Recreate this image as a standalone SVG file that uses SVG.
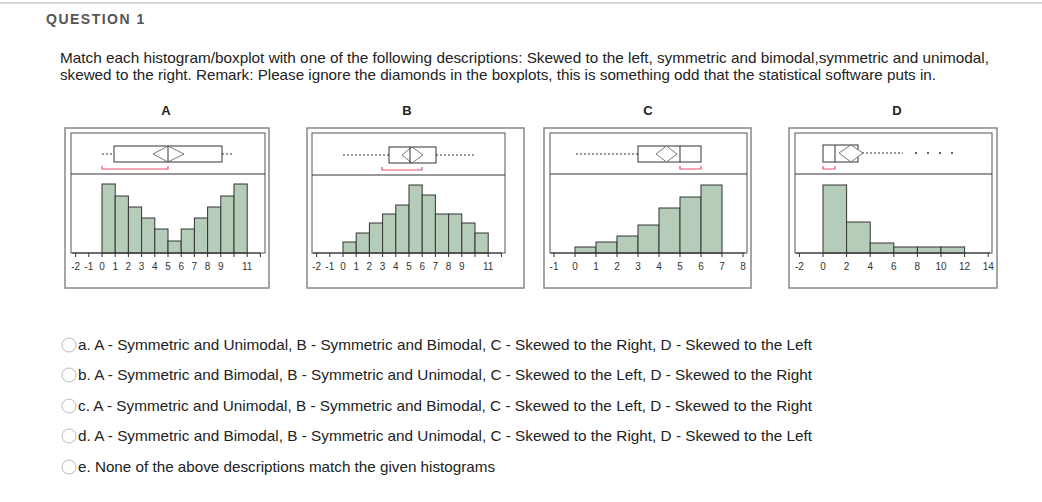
<svg xmlns="http://www.w3.org/2000/svg" width="1042" height="502" viewBox="0 0 1042 502">
<style>
text{font-family:"Liberation Sans",Arial,sans-serif;fill:#222}
.q{font-size:14px;font-weight:bold;fill:#555;letter-spacing:1.5px}
.p{font-size:14.5px}
.o{font-size:15px}
.t{font-size:13px;font-weight:bold;text-anchor:middle}
.tk{font-size:10px;text-anchor:middle;fill:#333}
.outer{fill:#fff;stroke:#888;stroke-width:1.5}
.inner{fill:none;stroke:#555;stroke-width:1}
.bar{fill:#b5cdb8;stroke:#333;stroke-width:1}
.ln{stroke:#333;stroke-width:1;fill:none}
.box{fill:#fff;stroke:#333;stroke-width:1}
.dia{fill:#fff;stroke:#555;stroke-width:0.8}
.wh{stroke:#333;stroke-width:1;stroke-dasharray:2,2}
.red{stroke:#e8506a;stroke-width:1.2;fill:none}
.rad{fill:#fff;stroke:#bbb;stroke-width:1}
</style>
<rect width="1042" height="502" fill="#fff"/>
<line x1="0" y1="3" x2="1042" y2="3" stroke="#ccc" stroke-width="1.5"/>
<text class="q" x="46" y="24">QUESTION 1</text>
<text class="p" x="60" y="63" textLength="929" lengthAdjust="spacingAndGlyphs">Match each histogram/boxplot with one of the following descriptions: Skewed to the left, symmetric and bimodal,symmetric and unimodal,</text>
<text class="p" x="60" y="80" textLength="876" lengthAdjust="spacingAndGlyphs">skewed to the right. Remark: Please ignore the diamonds in the boxplots, this is something odd that the statistical software puts in.</text>

<g id="A">
<text class="t" x="166" y="115">A</text>
<rect class="outer" x="65" y="128" width="204" height="160"/>
<rect class="inner" x="71" y="133" width="194" height="120"/>
<line class="ln" x1="71" y1="174" x2="265" y2="174"/>
<line class="wh" x1="102" y1="154" x2="114" y2="154"/><line class="wh" x1="222" y1="154" x2="234" y2="154"/>
<rect class="box" x="114" y="146" width="108" height="16"/>
<polygon class="dia" points="153,154 168,146 184,154 168,162"/>
<line class="ln" x1="168" y1="146" x2="168" y2="162"/>
<path class="red" d="M102,166V169H168V166"/>
<g>
<rect class="bar" x="102" y="184" width="13.2" height="69"/>
<rect class="bar" x="115.2" y="196" width="13.2" height="57"/>
<rect class="bar" x="128.4" y="207" width="13.2" height="46"/>
<rect class="bar" x="141.6" y="218" width="13.2" height="35"/>
<rect class="bar" x="154.8" y="229" width="13.2" height="24"/>
<rect class="bar" x="168" y="241" width="13.2" height="12"/>
<rect class="bar" x="181.2" y="229" width="13.2" height="24"/>
<rect class="bar" x="194.4" y="218" width="13.2" height="35"/>
<rect class="bar" x="207.6" y="207" width="13.2" height="46"/>
<rect class="bar" x="220.8" y="196" width="13.2" height="57"/>
<rect class="bar" x="234" y="184" width="13.2" height="69"/>
</g>
<line class="ln" x1="72" y1="253" x2="260" y2="253"/>
<path class="ln" d="M75.6,253v4M88.8,253v4M102,253v4M115.2,253v4M128.4,253v4M141.6,253v4M154.8,253v4M168,253v4M181.2,253v4M194.4,253v4M207.6,253v4M220.8,253v4M234,253v4M247.2,253v4M260.4,253v4"/>
<text class="tk" y="270"><tspan x="75.6">-2</tspan><tspan x="88.8">-1</tspan><tspan x="102">0</tspan><tspan x="115.2">1</tspan><tspan x="128.4">2</tspan><tspan x="141.6">3</tspan><tspan x="154.8">4</tspan><tspan x="168">5</tspan><tspan x="181.2">6</tspan><tspan x="194.4">7</tspan><tspan x="207.6">8</tspan><tspan x="220.8">9</tspan><tspan x="247.2">11</tspan></text>
</g>

<g id="B">
<text class="t" x="407" y="115">B</text>
<rect class="outer" x="307" y="128" width="217" height="160"/>
<rect class="inner" x="312" y="133" width="193" height="120"/>
<line class="ln" x1="312" y1="175" x2="505" y2="175"/>
<line class="wh" x1="343" y1="155" x2="389" y2="155"/><line class="wh" x1="436" y1="155" x2="475" y2="155"/>
<rect class="box" x="389" y="147" width="47" height="16"/>
<polygon class="dia" points="402,155 412,147 423,155 412,163"/>
<line class="ln" x1="410" y1="147" x2="410" y2="163"/>
<path class="red" d="M382,167V170H422V167"/>
<g>
<rect class="bar" x="343" y="242" width="13.2" height="11"/>
<rect class="bar" x="356.2" y="233" width="13.2" height="20"/>
<rect class="bar" x="369.4" y="223" width="13.2" height="30"/>
<rect class="bar" x="382.6" y="214" width="13.2" height="39"/>
<rect class="bar" x="395.8" y="205" width="13.2" height="48"/>
<rect class="bar" x="409" y="185" width="13.2" height="68"/>
<rect class="bar" x="422.2" y="195" width="13.2" height="58"/>
<rect class="bar" x="435.4" y="214" width="13.2" height="39"/>
<rect class="bar" x="448.6" y="214" width="13.2" height="39"/>
<rect class="bar" x="461.8" y="223" width="13.2" height="30"/>
<rect class="bar" x="475" y="233" width="13.2" height="20"/>
</g>
<line class="ln" x1="313" y1="253" x2="502" y2="253"/>
<path class="ln" d="M316.6,253v4M329.8,253v4M343,253v4M356.2,253v4M369.4,253v4M382.6,253v4M395.8,253v4M409,253v4M422.2,253v4M435.4,253v4M448.6,253v4M461.8,253v4M475,253v4M488.2,253v4M501.4,253v4"/>
<text class="tk" y="270"><tspan x="316.6">-2</tspan><tspan x="329.8">-1</tspan><tspan x="343">0</tspan><tspan x="356.2">1</tspan><tspan x="369.4">2</tspan><tspan x="382.6">3</tspan><tspan x="395.8">4</tspan><tspan x="409">5</tspan><tspan x="422.2">6</tspan><tspan x="435.4">7</tspan><tspan x="448.6">8</tspan><tspan x="461.8">9</tspan><tspan x="488.2">11</tspan></text>
</g>

<g id="C">
<text class="t" x="648" y="115">C</text>
<rect class="outer" x="544" y="128" width="207" height="160"/>
<rect class="inner" x="550" y="133" width="197" height="120"/>
<line class="ln" x1="550" y1="174" x2="747" y2="174"/>
<line class="wh" x1="576" y1="154" x2="638" y2="154"/>
<rect class="box" x="638" y="146" width="63" height="16"/>
<polygon class="dia" points="656,154 666.5,146 677,154 666.5,162"/>
<line class="ln" x1="680" y1="146" x2="680" y2="162"/>
<path class="red" d="M680,166V169H701V166"/>
<g>
<rect class="bar" x="575" y="247" width="21" height="6"/>
<rect class="bar" x="596" y="242" width="21" height="11"/>
<rect class="bar" x="617" y="236" width="21" height="17"/>
<rect class="bar" x="638" y="225" width="21" height="28"/>
<rect class="bar" x="659" y="208" width="21" height="45"/>
<rect class="bar" x="680" y="197" width="21" height="56"/>
<rect class="bar" x="701" y="185" width="21" height="68"/>
</g>
<line class="ln" x1="551" y1="253" x2="745" y2="253"/>
<path class="ln" d="M554,253v4M575,253v4M596,253v4M617,253v4M638,253v4M659,253v4M680,253v4M701,253v4M722,253v4M743,253v4"/>
<text class="tk" y="270"><tspan x="554">-1</tspan><tspan x="575">0</tspan><tspan x="596">1</tspan><tspan x="617">2</tspan><tspan x="638">3</tspan><tspan x="659">4</tspan><tspan x="680">5</tspan><tspan x="701">6</tspan><tspan x="722">7</tspan><tspan x="743">8</tspan></text>
</g>

<g id="D">
<text class="t" x="897" y="115">D</text>
<rect class="outer" x="789" y="128" width="208" height="160"/>
<rect class="inner" x="795" y="133" width="197" height="120"/>
<line class="ln" x1="795" y1="174" x2="992" y2="174"/>
<line class="wh" x1="858" y1="153" x2="903" y2="153"/>
<g fill="#333"><circle cx="916" cy="153" r="1"/><circle cx="928" cy="153" r="1"/><circle cx="940" cy="153" r="1"/><circle cx="952" cy="153" r="1"/></g>
<rect class="box" x="823" y="145" width="35" height="17"/>
<polygon class="dia" points="839,153 851,145 863,153 851,162"/>
<line class="ln" x1="835" y1="145" x2="835" y2="162"/>
<path class="red" d="M823,166V169H835V166"/>
<g>
<rect class="bar" x="823" y="185" width="23.6" height="68"/>
<rect class="bar" x="846.6" y="222" width="23.6" height="31"/>
<rect class="bar" x="870.2" y="243" width="23.6" height="10"/>
<rect class="bar" x="893.8" y="247" width="23.6" height="6"/>
<rect class="bar" x="917.4" y="247" width="23.6" height="6"/>
<rect class="bar" x="941" y="247" width="23.6" height="6"/>
</g>
<line class="ln" x1="796" y1="253" x2="990" y2="253"/>
<path class="ln" d="M799.4,253v4M823,253v4M846.6,253v4M870.2,253v4M893.8,253v4M917.4,253v4M941,253v4M964.6,253v4M988.2,253v4"/>
<text class="tk" y="270"><tspan x="799.4">-2</tspan><tspan x="823">0</tspan><tspan x="846.6">2</tspan><tspan x="870.2">4</tspan><tspan x="893.8">6</tspan><tspan x="917.4">8</tspan><tspan x="941">10</tspan><tspan x="964.6">12</tspan><tspan x="988.2">14</tspan></text>
</g>

<g id="options">
<circle class="rad" cx="69" cy="345" r="7"/>
<text class="o" x="78" y="350" textLength="734" lengthAdjust="spacingAndGlyphs">a. A - Symmetric and Unimodal, B - Symmetric and Bimodal, C - Skewed to the Right, D - Skewed to the Left</text>
<circle class="rad" cx="69" cy="375" r="7"/>
<text class="o" x="78" y="380" textLength="734" lengthAdjust="spacingAndGlyphs">b. A - Symmetric and Bimodal, B - Symmetric and Unimodal, C - Skewed to the Left, D - Skewed to the Right</text>
<circle class="rad" cx="69" cy="406" r="7"/>
<text class="o" x="78" y="411" textLength="734" lengthAdjust="spacingAndGlyphs">c. A - Symmetric and Unimodal, B - Symmetric and Bimodal, C - Skewed to the Left, D - Skewed to the Right</text>
<circle class="rad" cx="69" cy="436" r="7"/>
<text class="o" x="78" y="441" textLength="734" lengthAdjust="spacingAndGlyphs">d. A - Symmetric and Bimodal, B - Symmetric and Unimodal, C - Skewed to the Right, D - Skewed to the Left</text>
<circle class="rad" cx="69" cy="467" r="7"/>
<text class="o" x="78" y="472" textLength="417" lengthAdjust="spacingAndGlyphs">e. None of the above descriptions match the given histograms</text>
</g>
</svg>
